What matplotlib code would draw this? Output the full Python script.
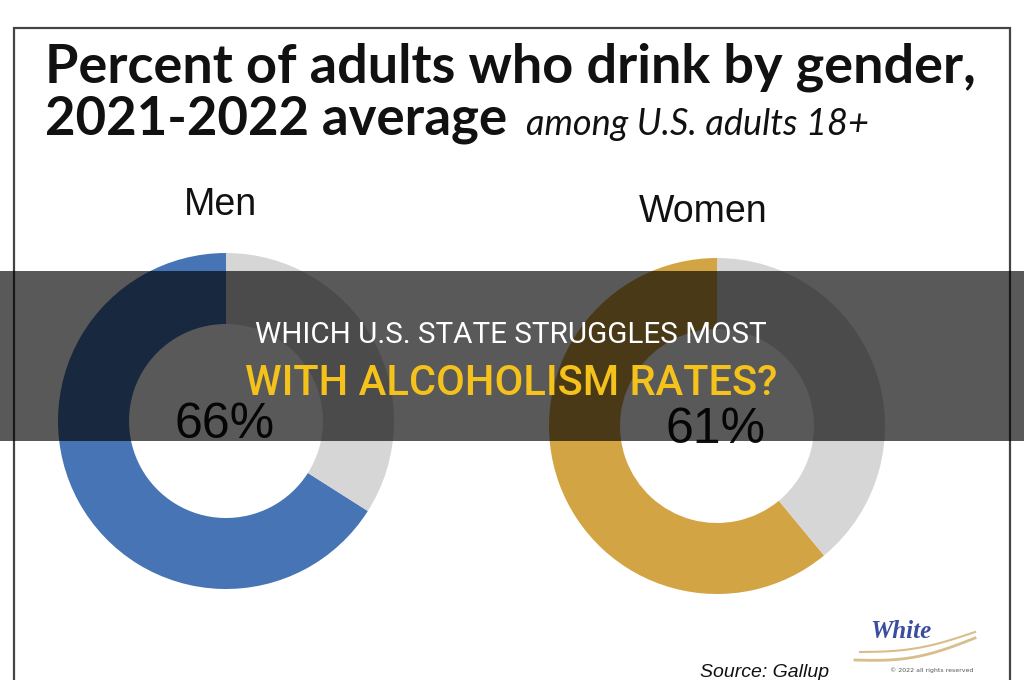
import matplotlib
matplotlib.use("Agg")
import matplotlib.pyplot as plt
from matplotlib.patches import Rectangle
import numpy as np

# ---- data ----
groups = ["Men", "Women"]
drink_pct = [66, 61]
colors_main = ["#4674B4", "#D3A444"]
rest_color = "#D6D6D6"
title_line1 = "Percent of adults who drink by gender,"
title_line2 = "2021-2022 average"
subtitle = "among U.S. adults 18+"
banner_line1 = "WHICH U.S. STATE STRUGGLES MOST"
banner_line2 = "WITH ALCOHOLISM RATES?"
source = "Source: Gallup"

W, H = 1024, 680
fig = plt.figure(figsize=(W / 100, H / 100), dpi=100)
ax = fig.add_axes([0, 0, 1, 1])

def Y(y):
    return H - y

# donuts
centers = [(226, 421), (717, 426)]
label_pos = [(220, 215), (703, 222)]
pct_pos = [(225, 438), (715, 443)]
for g, v, c, (cx, cy), (lx, ly), (px, py) in zip(groups, drink_pct, colors_main,
                                                   centers, label_pos, pct_pos):
    ax.pie([v, 100 - v], colors=[c, rest_color], startangle=90, counterclock=True,
           radius=168, center=(cx, Y(cy)), wedgeprops=dict(width=71, linewidth=0))
    ax.text(lx, Y(ly), g, ha="center", va="baseline", fontsize=27,
            family="Liberation Sans", color="#111111")
    ax.text(px, Y(py), f"{v}%", ha="center", va="baseline", fontsize=36,
            family="Liberation Sans", color="#111111")

ax.set_xlim(0, W)
ax.set_ylim(0, H)
ax.set_aspect("auto")
ax.axis("off")

# frame
ax.add_patch(Rectangle((14, Y(700)), 1010 - 14, 700 - 28, fill=False,
                       edgecolor="#444444", linewidth=1.6, zorder=1))

# title
ax.text(45, Y(83), title_line1, ha="left", va="baseline", fontsize=39,
        family="Lato", weight="bold", color="#111111")
ax.text(45, Y(135), title_line2, ha="left", va="baseline", fontsize=38,
        family="Lato", weight="bold", color="#111111")
ax.text(526, Y(135), subtitle, ha="left", va="baseline", fontsize=26,
        family="Lato", style="italic", weight="normal", color="#111111")

# source and logo
ax.text(700, Y(677), source, ha="left", va="baseline", fontsize=14,
        family="Liberation Sans", style="italic", color="#111111")
ax.text(870, Y(638), "White", ha="left", va="baseline", fontsize=18,
        family="Liberation Serif", style="italic", weight="bold", color="#3B4E9E")
tt = np.linspace(0, 1, 50)
ax.plot(855 + 120 * tt, Y(660 - 22 * tt + 8 * np.sin(np.pi * tt)), color="#D8BE8A", lw=2)
ax.plot(860 + 115 * tt, Y(652 - 20 * tt + 6 * np.sin(np.pi * tt)), color="#D8BE8A", lw=1.5)
ax.text(890, Y(672), "\u00a9 2022 all rights reserved", ha="left", va="baseline",
        fontsize=4.5, family="DejaVu Sans", color="#555555")

# banner overlay
ax.add_patch(Rectangle((0, Y(441)), W, 170, facecolor="black", alpha=0.65,
                       edgecolor="none", zorder=10))
ax.text(511, Y(343), banner_line1, ha="center", va="baseline", fontsize=21.3,
        family="Roboto", color="white", zorder=11)
ax.text(511, Y(395), banner_line2, ha="center", va="baseline", fontsize=30,
        family="Roboto", weight="medium", color="#F4C21B", zorder=11)

fig.savefig("out.png", dpi=100)
